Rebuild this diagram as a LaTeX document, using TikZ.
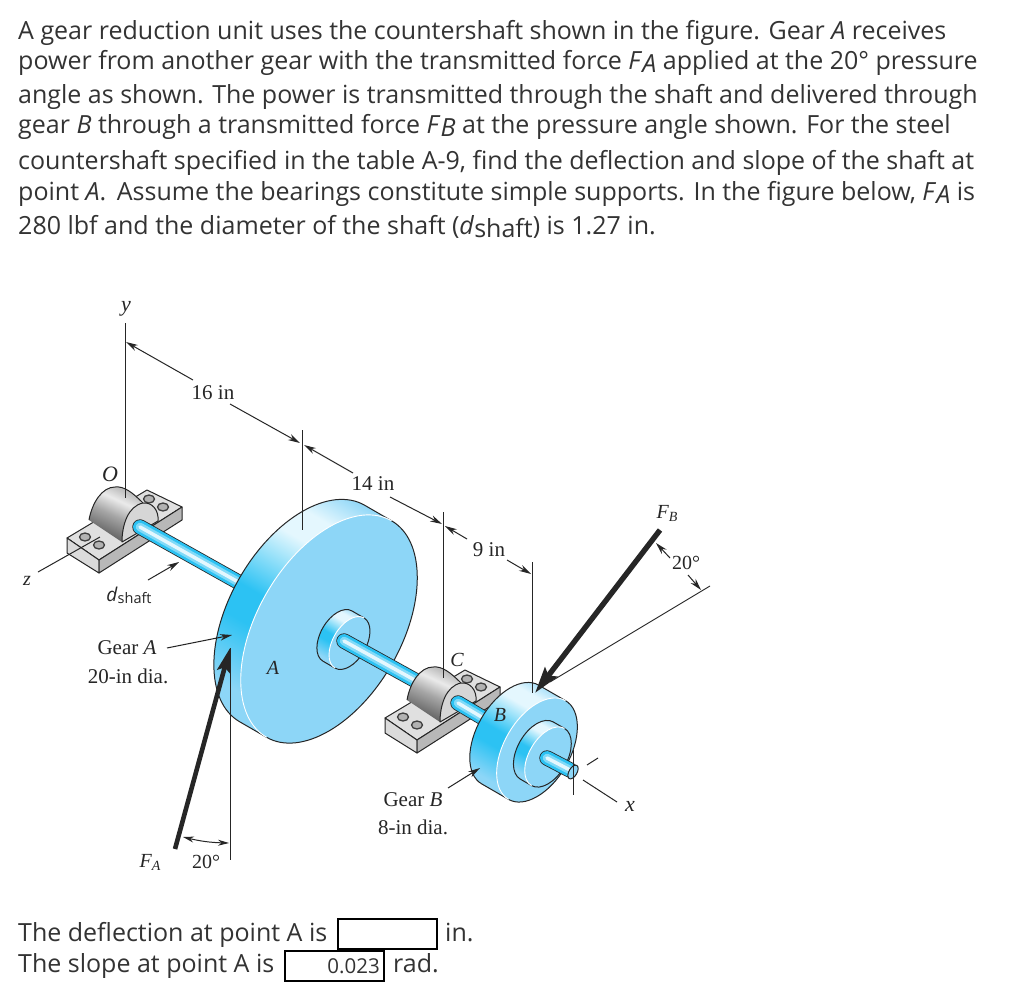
\documentclass[tikz,border=0pt]{standalone}
\usepackage{fontspec}
\setmainfont{Open Sans}
\newfontfamily\figfont{Liberation Serif}
\usetikzlibrary{arrows.meta,calc}
\definecolor{face}{HTML}{8DD6F7}
\definecolor{rimc}{HTML}{2CC2F3}
\definecolor{riml}{HTML}{E4F7FE}
\definecolor{ink}{HTML}{262626}
\definecolor{txt}{HTML}{333333}
\pgfdeclareverticalshading{rimshade}{100bp}{color(0bp)=(face);color(28bp)=(face);color(42bp)=(rimc);color(49bp)=(rimc);color(64bp)=(riml);color(70bp)=(riml);color(78bp)=(face);color(100bp)=(face)}
\pgfdeclareverticalshading{humpshade}{100bp}{color(0bp)=(black!60);color(30bp)=(black!60);color(48bp)=(black!35);color(62bp)=(black!8);color(72bp)=(black!25);color(100bp)=(black!30)}
\tikzset{
  line1/.style={anchor=base west,inner sep=0pt,font=\fontsize{25}{25}\selectfont,text=txt},
  figlab/.style={inner sep=0pt,font=\figfont\fontsize{21}{21}\selectfont,text=ink},
  dimline/.style={draw=ink,line width=1pt},
  dimarrow/.style={dimline,-{Stealth[length=12pt,width=6.5pt]}},
  dimboth/.style={dimline,{Stealth[length=11pt,width=6pt]}-{Stealth[length=11pt,width=6pt]}},
  refline/.style={draw=ink,line width=1pt},
  forcea/.style={draw=ink,line width=4.6pt,-{Stealth[length=24pt,width=13pt,inset=4pt]}},
  forceb/.style={draw=ink,line width=5.4pt,-{Stealth[length=26pt,width=15pt,inset=4pt]}},
  answer/.style={draw=black,line width=1.3pt,fill=white},
  outline/.style={draw=ink,line width=1pt,line join=round}
}
% a lit shaft: stroked in layers from one named point to another
\newcommand\shaftpiece[2]{%
  \begin{scope}[line cap=round]
  \draw[ink,line width=15.4pt] (#1) -- (#2);
  \draw[rimc,line width=13.8pt] (#1) -- (#2);
  \draw[rimc!60!white,line width=8.5pt] (#1) -- (#2);
  \draw[riml,line width=3.5pt] (#1) -- (#2);
  \end{scope}
}
% disc whose axis points along the shaft: centre, long radius, short radius, depth
\newcommand\discbody[5]{%
  \begin{scope}[shift={(#1,#2)},rotate=60]
    \shade[shading=rimshade,shading angle=-30] (#3,-#5) arc[start angle=0,end angle=-180,x radius=#3,y radius=#4] -- (-#3,0) -- (#3,0) -- cycle;
    \draw[outline] (#3,-#5) arc[start angle=0,end angle=-180,x radius=#3,y radius=#4] -- (-#3,0) (#3,0) -- (#3,-#5);
    \fill[face] (0,0) ellipse[x radius=#3,y radius=#4];
    \draw[outline] (#3,0) arc[start angle=0,end angle=180,x radius=#3,y radius=#4];
    \draw[white,line width=0.9pt] (#3,0) arc[start angle=0,end angle=-180,x radius=#3,y radius=#4];
  \end{scope}}
% pillow block bearing, drawn at its place for O and shifted for C
\newcommand\bearingunit[2]{%
  \begin{scope}[shift={(#1,#2)}]
    \fill[black!12,outline] (67,538) -- (147,490) -- (182,507) -- (99,560) -- cycle;
    \fill[black!14,outline] (67,538) -- (99,560) -- (99,573) -- (67,553) -- cycle;
    \fill[black!28,outline] (99,560) -- (182,507) -- (182,520) -- (99,573) -- cycle;
    \foreach \bx/\by in {85/537,99/545,149/499,163/507}
      \draw[black!75,fill=black!30,line width=1.3pt] (\bx,\by) ellipse[x radius=5.5,y radius=4];
    \shade[shading=humpshade,shading angle=-25] (89,520) .. controls (92,503) and (102,487) .. (115,487) .. controls (124,486) and (132,492) .. (143,503) -- (135,508) .. controls (126,514) and (122,530) .. (122,542) -- cycle;
    \draw[outline] (89,520) .. controls (92,503) and (102,487) .. (115,487) .. controls (124,486) and (132,492) .. (143,503);
    \fill[black!16,outline] (122,542) .. controls (122,525) and (128,506) .. (143,503) .. controls (152,502) and (159,510) .. (158,521) -- cycle;
  \end{scope}}
\begin{document}
\begin{tikzpicture}[x=1pt,y=-1pt]
\useasboundingbox (0,0) rectangle (1024,1003);
\fill[white] (0,0) rectangle (1024,1003);
% problem text
\node[line1] (t1) at (18,40) {A gear reduction unit uses the countershaft shown in the figure. Gear \textit{A} receives};
\node[line1] (t2) at (18,70) {power from another gear with the transmitted force \textit{F}\raisebox{-3pt}{\textit{A}} applied at the 20° pressure};
\node[line1] (t3) at (18,104) {angle as shown. The power is transmitted through the shaft and delivered through};
\node[line1] (t4) at (18,134) {gear \textit{B} through a transmitted force \textit{F}\raisebox{-3pt}{\textit{B}} at the pressure angle shown. For the steel};
\node[line1] (t5) at (18,170) {countershaft specified in the table A-9, find the deflection and slope of the shaft at};
\node[line1] (t6) at (18,200) {point \textit{A}.\, Assume the bearings constitute simple supports. In the figure below, \textit{F}\raisebox{-3pt}{\textit{A}} is};
\node[line1] (t7) at (18,234) {280 lbf and the diameter of the shaft (\textit{d}\raisebox{-3pt}{shaft}) is 1.27 in.};
% named points of the drawing
\coordinate (sa1) at (140,527);
\coordinate (sa2) at (240,583);
\coordinate (sb1) at (344,641);
\coordinate (sb2) at (420,683);
\coordinate (sc1) at (458,703);
\coordinate (sc2) at (490,722);
\coordinate (sd1) at (547,758);
\coordinate (sd2) at (570,770);
% z axis behind the block, left bearing and shaft
\bearingunit{0}{0}
\shaftpiece{sa1}{sa2}
\coordinate (zend) at (38,572); \coordinate (zstart) at (100,537);
\draw[refline] (zend) -- (zstart);
% gear A
\discbody{329}{629}{125}{72}{31}
\discbody{349.5}{643}{29}{16.7}{14}
\shaftpiece{sb1}{sb2}
% bearing C, shaft and gear B
\bearingunit{318}{180}
\shaftpiece{sc1}{sc2}
\discbody{537}{750}{57}{33}{31}
\discbody{548}{757}{33}{19}{13}
\shaftpiece{sd1}{sd2}
\draw[outline,fill=face,shift={(573,772)},rotate=60] (0,0) ellipse[x radius=7.6,y radius=4];
% reference lines
\coordinate (y0) at (125,323); \coordinate (y1) at (125,498);
\draw[refline] (y0) -- (y1);
\coordinate (a0) at (302,430); \coordinate (a1) at (302,530);
\draw[refline] (a0) -- (a1);
\coordinate (c0) at (443,512); \coordinate (c1) at (443,678);
\draw[refline] (c0) -- (c1);
\coordinate (b0) at (532,562); \coordinate (b1) at (532,693);
\draw[refline] (b0) -- (b1);
\coordinate (e0) at (573,750); \coordinate (e1) at (573,795);
\draw[refline] (e0) -- (e1);
\coordinate (xa) at (583,780); \coordinate (xb) at (617,802);
\draw[refline] (xa) -- (xb);
\coordinate (ea) at (587,765); \coordinate (eb) at (598,758);
\draw[refline] (ea) -- (eb);
% dimensions
\node[figlab] (d16) at (213,393) {16 in};
\node[figlab] (d14) at (373,484) {14 in};
\node[figlab] (d9) at (489,550) {9 in};
\coordinate (p1) at (193,380); \coordinate (p2) at (126,342);
\coordinate (p3) at (230,404); \coordinate (p4) at (300,443);
\coordinate (p5) at (353,473); \coordinate (p6) at (304,445);
\coordinate (p7) at (390,497); \coordinate (p8) at (442,524);
\coordinate (p9) at (467,539); \coordinate (p10) at (445,526);
\coordinate (p11) at (507,560); \coordinate (p12) at (531,574);
\draw[dimarrow] (p1) -- (p2);
\draw[dimarrow] (p3) -- (p4);
\draw[dimarrow] (p5) -- (p6);
\draw[dimarrow] (p7) -- (p8);
\draw[dimarrow] (p9) -- (p10);
\draw[dimarrow] (p11) -- (p12);
% force B
\coordinate (fbs) at (660,530); \coordinate (fbt) at (535,693);
\coordinate (bl0) at (550,682); \coordinate (bl1) at (710,586);
\draw[refline,line width=0.9pt] (bl0) -- (bl1);
\draw[forceb] (fbs) -- (fbt);
\node[figlab,font=\figfont\itshape\fontsize{20}{20}\selectfont] (fbl) at (667,513) {F\raisebox{-3pt}{\fontsize{14}{14}\selectfont B}};
\node[figlab,font=\figfont\fontsize{20}{20}\selectfont] (ab) at (686,563) {20°};
\coordinate (q1) at (670,558); \coordinate (q2) at (656,543);
\coordinate (q3) at (688,575); \coordinate (q4) at (701,590);
\draw[dimarrow] (q1) -- (q2);
\draw[dimarrow] (q3) -- (q4);
% force A
\coordinate (fas) at (175,849); \coordinate (fat) at (230,648);
\coordinate (al1) at (230,860);
\draw[refline] (fat) -- (al1);
\draw[forcea] (fas) -- (fat);
\coordinate (r1) at (183,837); \coordinate (r2) at (229,843);
\draw[dimboth] (r1) to[bend right=6] (r2);
\node[figlab,font=\figfont\itshape\fontsize{20}{20}\selectfont] (fal) at (150,862) {F\raisebox{-3pt}{\fontsize{14}{14}\selectfont A}};
\node[figlab,font=\figfont\fontsize{20}{20}\selectfont] (aa) at (206,862) {20°};
% leaders and labels
\node[figlab] (ga1) at (127,648) {Gear \textit{A}};
\node[figlab] (ga2) at (128,676) {20-in dia.};
\coordinate (l1) at (167,648); \coordinate (l2) at (232,635);
\draw[dimarrow] (l1) -- (l2);
\node[figlab] (gb1) at (413,800) {Gear \textit{B}};
\node[figlab] (gb2) at (413,827) {8-in dia.};
\coordinate (l3) at (448,788); \coordinate (l4) at (480,768);
\draw[dimarrow] (l3) -- (l4);
\node[figlab,font=\fontsize{19}{19}\selectfont] (ds) at (129,595) {\textit{d}\raisebox{-2pt}{\fontsize{14.5}{15}\selectfont shaft}};
\coordinate (l5) at (148,580); \coordinate (l6) at (179,562);
\draw[dimarrow] (l5) -- (l6);
\node[figlab,font=\figfont\itshape\fontsize{22}{22}\selectfont] (ol) at (110,474) {O};
\node[figlab,font=\figfont\itshape\fontsize{22}{22}\selectfont] (yl) at (126,309) {y};
\node[figlab,font=\figfont\itshape\fontsize{20}{20}\selectfont] (zl) at (27,581) {z};
\node[figlab,font=\figfont\itshape\fontsize{22}{22}\selectfont] (xl) at (630,806) {x};
\node[figlab,font=\figfont\itshape\fontsize{20}{20}\selectfont] (la) at (273,668) {A};
\node[figlab,font=\figfont\itshape\fontsize{20}{20}\selectfont] (lb) at (500,715) {B};
\node[figlab,font=\figfont\itshape\fontsize{20}{20}\selectfont] (lc) at (457,660) {C};
% answers
\node[line1] (q1t) at (18,941) {The deflection at point A is};
\node[line1] (q2t) at (18,972) {The slope at point A is};
\node[answer,minimum width=99pt,minimum height=30pt,inner sep=0pt] (box1) at (387.5,934) {};
\node[answer,minimum width=99pt,minimum height=30pt,inner sep=0pt] (box2) at (334.5,966) {};
\node[inner sep=0pt,anchor=base east,text=txt,font=\fontsize{20.5}{21}\selectfont] (v2) at (380,973) {0.023};
\node[line1] (u1) at (445,941) {in.};
\node[line1] (u2) at (393,972) {rad.};
\end{tikzpicture}
\end{document}
